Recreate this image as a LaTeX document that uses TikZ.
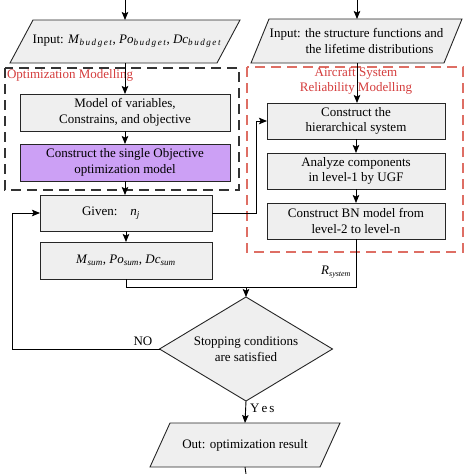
\documentclass[tikz,border=0pt]{standalone}
\usepackage{fontspec}
\setmainfont{Liberation Serif}
\usetikzlibrary{shapes.geometric,arrows.meta,backgrounds}
\definecolor{boxgray}{RGB}{239,239,239}
\definecolor{lav}{RGB}{204,160,245}
\definecolor{redtxt}{RGB}{212,60,60}
\definecolor{reddash}{RGB}{222,110,100}
\newcommand\isub[2]{\textit{#1}\textsubscript{\textit{#2}}}
\newcommand\paraoutline[2]{%
  \begin{scope}[on background layer]
  \draw[parashape] ([xshift=#2]#1.north west) -- (#1.north east) -- ([xshift=-#2]#1.south east) -- (#1.south west) -- cycle;
  \end{scope}}
\begin{document}
\begin{tikzpicture}[x=1pt,y=-1pt,
  font=\fontsize{13}{15.5}\selectfont,
  box/.style={draw=black!85, fill=boxgray, line width=0.9pt, minimum width=#1,
    minimum height=37pt, inner sep=0pt, outer sep=0pt, align=center},
  para/.style={inner sep=0pt, outer sep=0pt, align=center},
  parashape/.style={draw=black!85, fill=boxgray, line width=0.9pt},
  dia/.style={draw=black!85, fill=boxgray, line width=0.9pt, shape=diamond,
    minimum width=173pt, minimum height=104pt, inner sep=0pt, outer sep=0pt, align=center, aspect=1.66},
  arr/.style={line width=0.9pt, -{Stealth[length=8pt,width=6.5pt,inset=1.5pt]}},
  ln/.style={line width=0.9pt},
  grp/.style={line width=1.1pt, dash pattern=on 10pt off 6pt},
  lbl/.style={inner sep=0pt, outer sep=0pt}]
\useasboundingbox (0,0) rectangle (474,474);

% group frames
\draw[grp, draw=black!80] (5,68) rectangle (239,190);
\draw[grp, draw=reddash] (247,67) rectangle (463,252);
\node[lbl, anchor=west, text=redtxt] (tOpt) at (7,75) {Optimization Modelling};
\node[lbl, text=redtxt, align=center] (tAir) at (356,81) {Aircraft System\\Reliability Modelling};

% left column
\node[para, minimum width=230pt, minimum height=43pt]
  (in1) at (125,41.5) {\hspace*{4pt}Input: \isub{M}{b\,u\,d\,g\,e\,t}, \isub{Po}{b\,u\,d\,g\,e\,t}, \isub{Dc}{b\,u\,d\,g\,e\,t}};
\paraoutline{in1}{23pt}
\node[box=210pt] (m1) at (125,112.5) {Model of variables,\\Constrains, and objective};
\node[box=210pt, fill=lav] (m2) at (125,162.5) {Construct the single Objective\\optimization model};
\node[box=172pt, minimum height=36pt] (giv) at (126,213) {Given:\quad \isub{n}{j}\hspace*{30pt}};
\node[box=172pt] (msum) at (126,260.5) {\isub{M}{sum}, \isub{Po}{sum}, \isub{Dc}{sum}};

% right column
\node[para, minimum width=211pt, minimum height=44pt]
  (in2) at (356.5,41) {Input: the structure functions and\\\hspace*{26pt}the lifetime distributions};
\paraoutline{in2}{18pt}
\node[box=178pt, minimum height=36pt] (h1) at (356,121) {Construct the\\hierarchical system};
\node[box=178pt, minimum height=36pt] (h2) at (356,171) {Analyze components\\in level-1 by UGF};
\node[box=178pt, minimum height=36pt] (h3) at (356,221) {Construct BN model from\\level-2 to level-n};

% bottom
\node[dia] (dec) at (246,349) {Stopping conditions\\are satisfied};
\node[para, minimum width=190pt, minimum height=44pt]
  (out) at (245,445) {Out: optimization result};
\paraoutline{out}{20pt}

\coordinate (topL) at (125,0);
\coordinate (topR) at (357,0);
\coordinate (jn) at (246,287);
\coordinate (bot) at (246,474);
\coordinate (lx) at (12,0);
\coordinate (rx) at (256,0);

% connectors
\draw[arr] (topL) -- (topL |- in1.north);
\draw[arr] (topR) -- (topR |- in2.north);
\draw[arr] (topL |- in1.south) -- (m1.north);
\draw[arr] (m1.south) -- (m2.north);
\draw[arr] (m2.south) -- (m2.south |- giv.north);
\draw[arr] (giv.south) -- (msum.north);
\draw[arr] (topR |- in2.south) -- (topR |- h1.north);
\draw[arr] (h1.south) -- (h2.north);
\draw[arr] (h2.south) -- (h3.north);
\draw[ln] (msum.south) |- (h3.south |- jn) -- (h3.south);
\draw[arr] (jn) -- (dec.north);
\draw[arr] (giv.east) -| (rx |- h1.west) -- (h1.west);
\draw[arr] (dec.west) -| (lx |- giv.west) -- (giv.west);
\draw[arr] (dec.south) -- (out.north);
\draw[ln] (out.south) -- (bot);

\node[lbl, anchor=east] (rsys) at (351,272) {\isub{R}{\footnotesize system}};
\node[lbl] (no) at (143,341) {NO};
\node[lbl, anchor=west] (yes) at (250,408) {Y\,e\,s};
\end{tikzpicture}
\end{document}
